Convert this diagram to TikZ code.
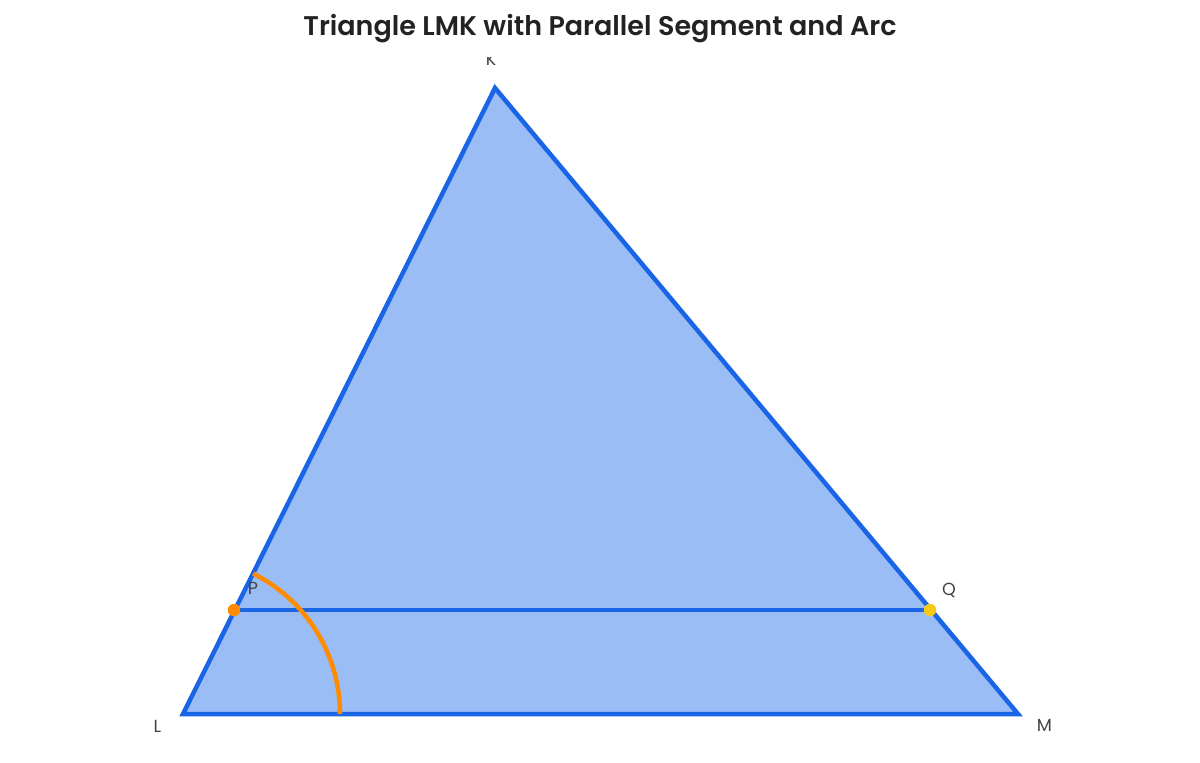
\documentclass[tikz,border=0pt]{standalone}
\usepackage{fontspec}
\newfontfamily\titlefont{Poppins}[UprightFont=* SemiBold]
\newfontfamily\labelfont{Poppins}
\definecolor{triFill}{HTML}{9BBDF6}
\definecolor{triLine}{HTML}{1A64E6}
\definecolor{arcOrange}{HTML}{FF8C00}
\definecolor{dotYellow}{HTML}{F7C815}
\definecolor{txt}{HTML}{222222}
\tikzset{
  vlabel/.style={font=\labelfont\fontsize{17.5}{17.5}\selectfont, text=txt!85, inner sep=0pt, anchor=center},
  edge/.style={draw=triLine, line width=4.5pt, line join=miter},
  dotmark/.style={circle, inner sep=0pt, minimum size=12.5pt},
}
\begin{document}
\begin{tikzpicture}[x=1pt,y=-1pt]
\useasboundingbox (0,0) rectangle (1200,763);
\coordinate (L) at (183,714);
\coordinate (M) at (1018,714);
\coordinate (K) at (495,88);
\coordinate (P) at (234,610);
\coordinate (Q) at (930,610);
\coordinate (A0) at (340,714);
\fill[triFill] (L) -- (M) -- (K) -- cycle;
\draw[edge] (P) -- (Q);
\draw[edge] (L) -- (M) -- (K) -- cycle;
\draw[arcOrange, line width=4.5pt] (A0) arc[start angle=0, end angle=-63.4, radius=157];
\node[dotmark, fill=arcOrange] (Pdot) at (P) {};
\node[dotmark, fill=dotYellow] (Qdot) at (Q) {};
\node[vlabel] (lL) at (157.5,726.5) {L};
\node[vlabel] (lM) at (1044.5,725) {M};
\node[vlabel] (lP) at (253,588.5) {P};
\node[vlabel] (lQ) at (949,590) {Q};
\begin{scope}
\clip (440,57) rectangle (540,80);
\node[vlabel] (lK) at (491,59.5) {K};
\end{scope}
\node[font=\titlefont\fontsize{27}{27}\selectfont, text=txt, inner sep=0pt] (title) at (600,29) {Triangle LMK with Parallel Segment and Arc};
\end{tikzpicture}
\end{document}
